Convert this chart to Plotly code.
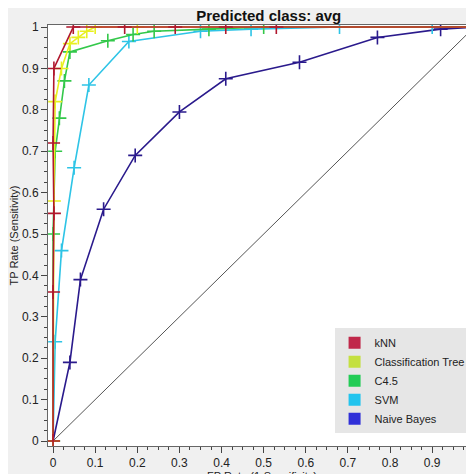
import plotly.graph_objects as go

names = ["kNN", "Classification Tree", "C4.5", "SVM", "Naive Bayes"]
colors = ["#b0182e", "#e8f020", "#33c84a", "#2ec4e6", "#2a1a8c"]
legend_colors = ["#c0284a", "#c4e040", "#22cc55", "#22c4ee", "#3030d8"]

knn_x = [0, 0, 0.002, 0, 0.002, 0.048, 0.17, 0.29, 0.41, 0.53, 1]
knn_y = [0, 0.36, 0.55, 0.72, 0.90, 1.0, 1.0, 1.0, 1.0, 1.0, 1.0]
tree_x = [0, 0.002, 0.005, 0.02, 0.04, 0.06, 0.08, 0.10, 0.20, 1]
tree_y = [0, 0.58, 0.82, 0.90, 0.96, 0.975, 0.99, 1.0, 1.0, 1.0]
c45_x = [0, 0, 0.005, 0.015, 0.027, 0.04, 0.13, 0.19, 0.24, 0.37, 0.5, 1]
c45_y = [0, 0.50, 0.70, 0.78, 0.87, 0.94, 0.967, 0.982, 0.99, 0.995, 1.0, 1.0]
svm_x = [0, 0.005, 0.02, 0.05, 0.085, 0.18, 0.35, 0.47, 0.68, 0.9, 1]
svm_y = [0, 0.24, 0.46, 0.66, 0.86, 0.965, 0.99, 0.995, 1.0, 1.0, 1.0]
nb_x = [0, 0.04, 0.065, 0.12, 0.195, 0.30, 0.41, 0.585, 0.77, 0.92, 1]
nb_y = [0, 0.19, 0.39, 0.56, 0.69, 0.795, 0.875, 0.915, 0.975, 0.995, 1.0]

series = [(knn_x, knn_y), (tree_x, tree_y), (c45_x, c45_y), (svm_x, svm_y), (nb_x, nb_y)]
tick_labels = ["0", "0.1", "0.2", "0.3", "0.4", "0.5", "0.6", "0.7", "0.8", "0.9", "1"]

fig = go.Figure()
fig.add_trace(go.Scatter(x=[0, 1], y=[0, 1], mode="lines",
                         line=dict(color="#555555", width=1), showlegend=False, hoverinfo="skip"))
for i in range(len(names) - 1, -1, -1):
    x, y = series[i]
    fig.add_trace(go.Scatter(x=x, y=y, mode="lines+markers", name=names[i], showlegend=False,
                             line=dict(color=colors[i], width=1.6),
                             marker=dict(symbol="cross-thin", size=10,
                                         line=dict(color=colors[i], width=1.6))))
for i in range(len(names)):
    fig.add_trace(go.Scatter(x=[None], y=[None], mode="markers", name=names[i],
                             marker=dict(symbol="square", size=12, color=legend_colors[i])))

fig.update_layout(
    width=474, height=474,
    margin=dict(l=38, r=4, t=17, b=36),
    paper_bgcolor="#f0f0f0", plot_bgcolor="white",
    font=dict(family="Liberation Sans, Arial", size=12, color="#222"),
    title=dict(text="<b>Predicted class: avg</b>", x=0.55, y=0.995, yanchor="top",
               font=dict(size=15, color="#111")),
    legend=dict(x=0.985, y=0.03, xanchor="right", yanchor="bottom",
                bgcolor="#e6e6e6", font=dict(size=11), tracegroupgap=0,
                itemsizing="constant"),
)
fig.update_xaxes(range=[-0.012, 1.004], tickvals=[i / 10 for i in range(11)], ticktext=tick_labels,
                 ticks="outside", ticklen=6, showgrid=False, zeroline=False,
                 showline=True, linecolor="#666", mirror=True,
                 minor=dict(dtick=0.025, ticks="outside", ticklen=3),
                 title=dict(text="FP Rate (1-Specificity)", font=dict(size=11), standoff=0))
fig.update_yaxes(range=[-0.012, 1.005], tickvals=[i / 10 for i in range(11)], ticktext=tick_labels,
                 ticks="outside", ticklen=6, showgrid=False, zeroline=False,
                 showline=True, linecolor="#666", mirror=True,
                 minor=dict(dtick=0.025, ticks="outside", ticklen=3),
                 title=dict(text="TP Rate (Sensitivity)", font=dict(size=11), standoff=2))

fig.write_html("out.html")
